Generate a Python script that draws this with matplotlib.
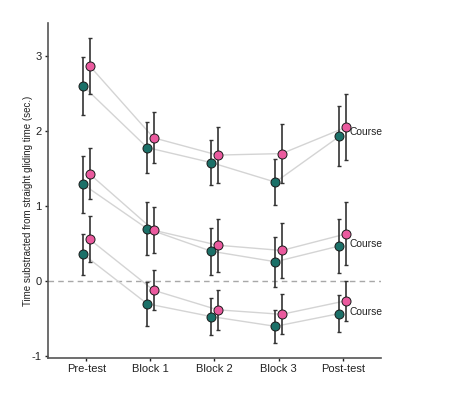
import numpy as np
from matplotlib import pyplot as plt

plt.rcParams['font.family'] = ['Liberation Sans', 'DejaVu Sans']
plt.rcParams['axes.unicode_minus'] = False

phases = ["Pre-test", "Block 1", "Block 2", "Block 3", "Post-test"]

# three courses, each with a green and a pink group (mean, error)
green_top = [2.60, 1.78, 1.58, 1.32, 1.93]
green_top_err = [0.39, 0.34, 0.30, 0.31, 0.40]
pink_top = [2.87, 1.91, 1.68, 1.70, 2.05]
pink_top_err = [0.37, 0.34, 0.37, 0.39, 0.44]

green_mid = [1.29, 0.70, 0.40, 0.26, 0.47]
green_mid_err = [0.375, 0.35, 0.31, 0.33, 0.36]
pink_mid = [1.43, 0.68, 0.48, 0.41, 0.63]
pink_mid_err = [0.34, 0.31, 0.35, 0.36, 0.42]

green_low = [0.36, -0.30, -0.47, -0.60, -0.43]
green_low_err = [0.27, 0.29, 0.25, 0.22, 0.245]
pink_low = [0.56, -0.12, -0.38, -0.44, -0.26]
pink_low_err = [0.31, 0.265, 0.265, 0.265, 0.27]

course_labels = ["Course", "Course", "Course"]
course_label_y = [1.99, 0.49, -0.41]

green = "#1b7068"
pink = "#ea5a9e"

fig = plt.figure(figsize=(4.74, 3.95), dpi=100)
ax = fig.add_axes([0.101, 0.094, 0.703, 0.848])

x = np.arange(1, len(phases) + 1)
dodge = 0.05

ax.axhline(0, color="#a8a8a8", lw=1, ls=(0, (4, 3)), zorder=0)

groups = [
    (green_top, green_top_err, pink_top, pink_top_err),
    (green_mid, green_mid_err, pink_mid, pink_mid_err),
    (green_low, green_low_err, pink_low, pink_low_err),
]
for g, ge, p, pe in groups:
    for vals, errs, col, off in [(g, ge, green, -dodge), (p, pe, pink, dodge)]:
        xs = x + off
        ax.plot(xs, vals, color="#d4d4d4", lw=1, zorder=1)
        ax.errorbar(xs, vals, yerr=errs, fmt="none", ecolor="#333333",
                    elinewidth=1.2, capsize=1.5, capthick=1, zorder=2)
        ax.plot(xs, vals, "o", ms=6.5, mfc=col, mec="#1a1a1a", mew=0.7, zorder=3)

# labels at the right of the post-test points
for lab, ly in zip(course_labels, course_label_y):
    ax.text(5.11, ly, lab, fontsize=7.4, color="#222222", va="center", ha="left")

ax.set_xlim(0.4, 5.6)
ax.set_ylim(-1.02, 3.44)
ax.set_xticks(x)
ax.set_xticklabels(phases)
ax.set_yticks([-1, 0, 1, 2, 3])
ax.set_ylabel("Time substracted from straight gliding time (sec.)", fontsize=7,
              color="#222222")
ax.yaxis.set_label_coords(-0.045, 0.47)
ax.tick_params(labelsize=8, colors="#222222", length=2.5, width=1, pad=2)
for s in ["top", "right"]:
    ax.spines[s].set_visible(False)
for s in ["left", "bottom"]:
    ax.spines[s].set_color("#555555")
    ax.spines[s].set_linewidth(1.2)

fig.savefig("out.png", dpi=100)
